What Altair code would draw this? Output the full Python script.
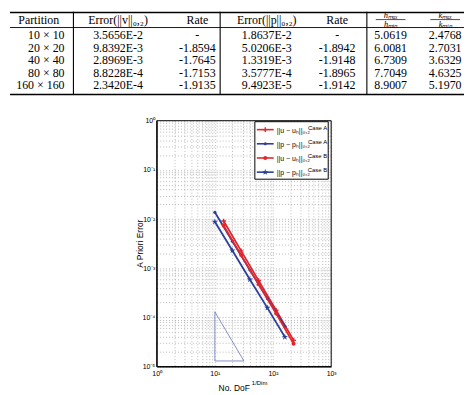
import altair as alt
import pandas as pd

# ---------------- table data ----------------
partitions = ["10 ×  10", "20 ×  20", "40 ×  40", "80 ×  80", "160 × 160"]
err_v = ["3.5656E-2", "9.8392E-3", "2.8969E-3", "8.8228E-4", "2.3420E-4"]
rate_v = ["-", "-1.8594", "-1.7645", "-1.7153", "-1.9135"]
err_p = ["1.8637E-2", "5.0206E-3", "1.3319E-3", "3.5777E-4", "9.4923E-5"]
rate_p = ["-", "-1.8942", "-1.9148", "-1.8965", "-1.9142"]
h_ratio = ["5.0619", "6.0081", "6.7309", "7.7049", "8.9007"]
k_ratio = ["2.4768", "2.7031", "3.6329", "4.6325", "5.1970"]
headers = ["Partition", "Error(||v||₀,₂)", "Rate", "Error(||p||₀,₂)", "Rate"]
frac_h = ["hₘₐₓ", "hₘᵢₙ"]
frac_k = ["kₘₐₓ", "kₘᵢₙ"]

# ---------------- plot data ----------------
dof_p = [10, 20, 40, 80, 160]
dof_u = [14.14, 28.28, 56.57, 113.1, 226.3]
u_case_a = [9.1e-3, 2.25e-3, 5.6e-4, 1.4e-4, 3.4e-5]
p_case_a = [1.37e-2, 3.55e-3, 9.2e-4, 2.42e-4, 6.6e-5]
u_case_b = [7.4e-3, 1.85e-3, 4.7e-4, 1.2e-4, 2.9e-5]
p_case_b = [8.8e-3, 2.29e-3, 5.9e-4, 1.56e-4, 4.0e-5]
tri_x = [10, 10, 31.6, 10]
tri_y = [1.3e-4, 1.3e-5, 1.3e-5, 1.3e-4]
legend_norms = ["||u − uₕ||₀,₂", "||p − pₕ||₀,₂", "||u − uₕ||₀,₂", "||p − pₕ||₀,₂"]
legend_cases = ["Case A", "Case A", "Case B", "Case B"]
x_ticks = [1, 10, 100, 1000]
x_tick_labels = ["10⁰", "10¹", "10²", "10³"]
y_ticks = [1e-5, 1e-4, 1e-3, 1e-2, 1e-1, 1]
y_tick_labels = ["10⁻⁵", "10⁻⁴", "10⁻³", "10⁻²", "10⁻¹", "10⁰"]

RED = "#e3262b"
BLUE = "#2b3f9b"
SERIF = "Liberation Serif"
SANS = "Liberation Sans"
FS = 12

one = pd.DataFrame({"a": [0]})

# ================= TABLE =================
TW, TH = 458, 84
rows = list(range(5))
tdf = pd.DataFrame({
    "row": rows, "part": partitions, "ev": err_v, "rv": rate_v,
    "ep": err_p, "rp": rate_p, "hr": h_ratio, "kr": k_ratio,
})
ROWY = alt.Y("row:O", scale=alt.Scale(type="point", domain=rows, range=[24, 74.5], padding=0), axis=None)

col_specs = [("part", 55, "right"), ("ev", 109, "center"), ("rv", 189, "center"),
             ("ep", 259, "center"), ("rp", 330, "center"), ("hr", 384, "center"),
             ("kr", 439, "center")]
tlayers = []
for field, cx, al in col_specs:
    tlayers.append(
        alt.Chart(tdf).mark_text(font=SERIF, fontSize=FS, align=al, baseline="middle", color="black")
        .encode(x=alt.value(cx), y=ROWY, text=alt.Text(f"{field}:N"))
    )
hdf = pd.DataFrame({"h": headers})
for i, cx in enumerate([29, 109, 189, 259, 330]):
    tlayers.append(
        alt.Chart(hdf.iloc[[i]]).mark_text(font=SERIF, fontSize=FS, align="center", baseline="middle", color="black")
        .encode(x=alt.value(cx), y=alt.value(8), text="h:N")
    )
for fr, cx in [(frac_h, 384), (frac_k, 439)]:
    fdf = pd.DataFrame({"t": fr})
    tlayers.append(alt.Chart(fdf.iloc[[0]]).mark_text(font=SERIF, fontStyle="italic", fontSize=8.5, align="center", baseline="middle")
                   .encode(x=alt.value(cx), y=alt.value(3.5), text="t:N"))
    tlayers.append(alt.Chart(fdf.iloc[[1]]).mark_text(font=SERIF, fontStyle="italic", fontSize=8.5, align="center", baseline="middle")
                   .encode(x=alt.value(cx), y=alt.value(12.5), text="t:N"))
    tlayers.append(alt.Chart(one).mark_rule(color="black", strokeWidth=0.7)
                   .encode(x=alt.value(cx - 15), x2=alt.value(cx + 15), y=alt.value(8)))
for yy, sw in [(0.8, 1.6), (16, 0.9), (83.5, 1.6)]:
    tlayers.append(alt.Chart(one).mark_rule(color="black", strokeWidth=sw)
                   .encode(x=alt.value(0), x2=alt.value(TW), y=alt.value(yy)))
for xx in [64, 212, 360]:
    tlayers.append(alt.Chart(one).mark_rule(color="black", strokeWidth=1.1)
                   .encode(x=alt.value(xx), y=alt.value(0), y2=alt.value(84)))
table = alt.layer(*tlayers).properties(width=TW, height=TH)

# ================= PLOT =================
PW, PH = 176, 248
grid_x = [m * 10 ** e for e in range(0, 3) for m in range(1, 10)] + [1000]
grid_y = [m * 10.0 ** e for e in range(-5, 0) for m in range(1, 10)] + [1.0]


def lab_expr(vals, labs):
    parts = [f"abs(datum.value - {v}) < {v * 1e-3} ? '{l}'" for v, l in zip(vals, labs)]
    return " : ".join(parts) + " : ''"


XS = alt.Scale(type="log", domain=[1, 1000], nice=False)
YS = alt.Scale(type="log", domain=[1e-5, 1], nice=False)
axis_common = dict(grid=True, gridDash=[1, 2], gridColor="#8c8c8c", gridWidth=0.6, ticks=False,
                   domainColor="black", domainWidth=1, labelFont=SANS, labelFontSize=7,
                   labelColor="black", labelOverlap=False, labelFlush=False, title=None)
XA = alt.Axis(values=grid_x, labelExpr=lab_expr(x_ticks, x_tick_labels), labelPadding=3, **axis_common)
YA = alt.Axis(values=grid_y, labelExpr=lab_expr(y_ticks, y_tick_labels), labelPadding=2, **axis_common)

series_df = pd.concat([
    pd.DataFrame({"dof": dof_u, "err": u_case_a, "s": "uA"}),
    pd.DataFrame({"dof": dof_p, "err": p_case_a, "s": "pA"}),
    pd.DataFrame({"dof": dof_u, "err": u_case_b, "s": "uB"}),
    pd.DataFrame({"dof": dof_p, "err": p_case_b, "s": "pB"}),
])
tri_df = pd.DataFrame({"dof": tri_x, "err": tri_y, "o": list(range(len(tri_x)))})

CROSS = "M-1,0H1M0,-1V1"
STAR = ("M0,-1L0.2245,-0.309L0.951,-0.309L0.3633,0.118L0.5878,0.809L0,0.382"
        "L-0.5878,0.809L-0.3633,0.118L-0.951,-0.309L-0.2245,-0.309Z")
styles = {
    "uA": dict(color=RED, shape=CROSS, filled=False, size=22, strokeWidth=1.4),
    "pA": dict(color=BLUE, shape="circle", filled=True, size=10, strokeWidth=1),
    "uB": dict(color=RED, shape="circle", filled=True, size=16, strokeWidth=1),
    "pB": dict(color=BLUE, shape=STAR, filled=True, size=45, strokeWidth=0.5),
}

players = []
players.append(alt.Chart(tri_df).mark_line(color="#6676b8", strokeWidth=0.8)
               .encode(x=alt.X("dof:Q", scale=XS, axis=XA), y=alt.Y("err:Q", scale=YS, axis=YA), order="o:Q"))
for key in ["uA", "pA", "uB", "pB"]:
    st = styles[key]
    d = series_df[series_df.s == key]
    players.append(alt.Chart(d).mark_line(color=st["color"], strokeWidth=1.8)
                   .encode(x=alt.X("dof:Q", scale=XS), y=alt.Y("err:Q", scale=YS)))
    players.append(alt.Chart(d).mark_point(color=st["color"], shape=st["shape"], filled=st["filled"],
                                           size=st["size"], strokeWidth=st["strokeWidth"], opacity=1)
                   .encode(x=alt.X("dof:Q", scale=XS), y=alt.Y("err:Q", scale=YS)))

# frame
players.append(alt.Chart(one).mark_rect(fill="transparent", stroke="black", strokeWidth=1)
               .encode(x=alt.value(0), x2=alt.value(PW), y=alt.value(0), y2=alt.value(PH)))
# legend box
LX0, LX1, LY0, LY1 = 99, 173, 1, 59
players.append(alt.Chart(one).mark_rect(fill="white", stroke="black", strokeWidth=1)
               .encode(x=alt.value(LX0), x2=alt.value(LX1), y=alt.value(LY0), y2=alt.value(LY1)))
ldf = pd.DataFrame({"norm": legend_norms, "case": legend_cases})
for i, key in enumerate(["uA", "pA", "uB", "pB"]):
    st = styles[key]
    ly = 9 + 14.3 * i
    row = ldf.iloc[[i]]
    players.append(alt.Chart(row).mark_rule(color=st["color"], strokeWidth=1.6)
                   .encode(x=alt.value(101), x2=alt.value(118), y=alt.value(ly)))
    players.append(alt.Chart(row).mark_point(color=st["color"], shape=st["shape"], filled=st["filled"],
                                             size=st["size"], strokeWidth=st["strokeWidth"], opacity=1)
                   .encode(x=alt.value(109.5), y=alt.value(ly)))
    players.append(alt.Chart(row).mark_text(font=SANS, fontSize=7, align="left", baseline="middle", color="black")
                   .encode(x=alt.value(121), y=alt.value(ly + 1), text="norm:N"))
    players.append(alt.Chart(row).mark_text(font=SANS, fontSize=6, align="right", baseline="middle", color="black")
                   .encode(x=alt.value(172), y=alt.value(ly - 2), text="case:N"))

# axis titles
players.append(alt.Chart(pd.DataFrame({"t": ["A Priori Error"]})).mark_text(
    font=SANS, fontSize=8.5, angle=270, align="center", baseline="middle", color="black")
    .encode(x=alt.value(-17), y=alt.value(PH / 2), text="t:N"))
players.append(alt.Chart(pd.DataFrame({"t": ["No. DoF"]})).mark_text(
    font=SANS, fontSize=8.5, align="right", baseline="middle", color="black")
    .encode(x=alt.value(94), y=alt.value(PH + 22), text="t:N"))
players.append(alt.Chart(pd.DataFrame({"t": ["1/Dim"]})).mark_text(
    font=SANS, fontSize=6, align="left", baseline="middle", color="black")
    .encode(x=alt.value(96), y=alt.value(PH + 17), text="t:N"))

plot = alt.layer(*players).properties(width=PW, height=PH)

spacer = alt.Chart(one).mark_text(text="").encode(x=alt.value(0), y=alt.value(0)).properties(width=125, height=10)

chart = alt.vconcat(
    table,
    alt.hconcat(spacer, plot, spacing=0),
    spacing=17,
).properties(padding=0).configure_view(stroke="transparent")

chart.save("out.html", embed_options={"renderer": "svg", "actions": False})
